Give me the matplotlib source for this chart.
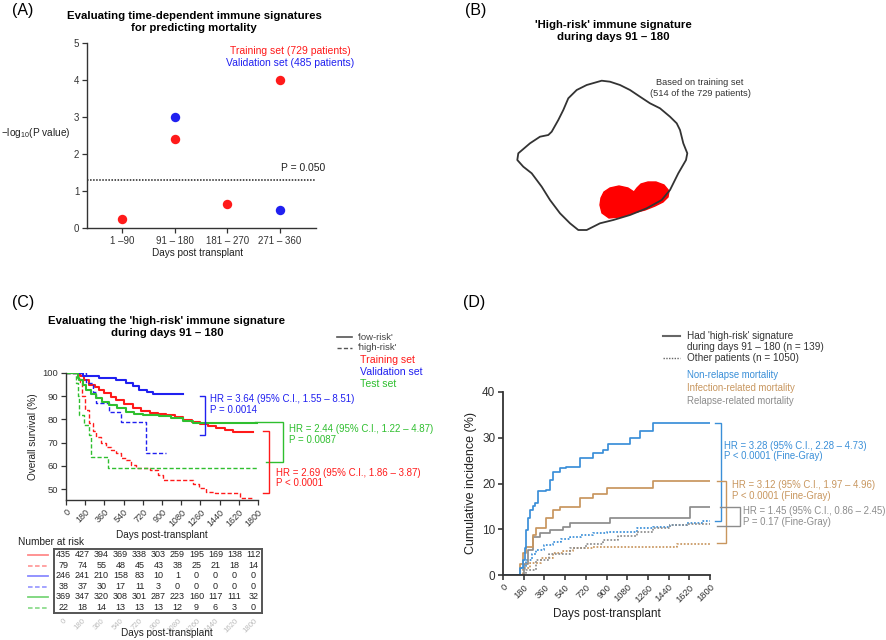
import matplotlib
matplotlib.use('Agg')
import matplotlib.pyplot as plt
import numpy as np
from matplotlib.patches import Polygon
from matplotlib.lines import Line2D

plt.rcParams['font.family'] = ['Liberation Sans', 'DejaVu Sans']
plt.rcParams['mathtext.default'] = 'regular'

# ---------------- data ----------------
# Panel A
a_categories = ['1 –90', '91 – 180', '181 – 270', '271 – 360']
a_training = [0.25, 2.4, 0.65, 4.0]
a_validation_idx = [1, 3]
a_validation = [3.0, 0.48]
a_threshold = -np.log10(0.05)

# Panel B (schematic outline and high-risk region, in panel units)
b_outline_x = [601.7, 586.7, 576.7, 568.3, 563.3, 558.3, 551.7, 548.3, 540, 530, 518.3, 517.3, 523.3,
               531.7, 541.7, 550, 560, 570, 578.3, 586.7, 600, 613.3, 630, 646.7, 661.7, 670, 678.3,
               686, 687.3, 683.3, 680, 676.7, 670, 660, 650, 640, 630, 620, 610]
b_outline_y = [80.7, 85, 90, 98.3, 110, 120, 131.7, 135, 136.7, 143.3, 153.3, 160, 166.7,
               173.3, 186.7, 200, 213.3, 223.3, 230, 230, 223.3, 220, 215, 208.3, 200, 190, 173.3,
               160, 153.3, 143.3, 130, 123.3, 116.7, 108.3, 103.3, 96.7, 90, 85, 81.7]
b_region_x = [600, 601, 604, 610, 619, 628, 634, 637, 641, 648, 656, 664, 669, 668, 663, 655, 645,
              633, 620, 609, 602]
b_region_y = [205, 198, 192, 188, 186, 188, 192, 188, 184, 182, 182, 185, 191, 197, 202, 206, 210,
              213, 217, 218, 213]

# Panel C: Kaplan-Meier curves (days, survival %)
c_train_low_t = [0, 95, 130, 172, 220, 270, 313, 360, 420, 470, 540, 626, 700, 783, 860, 939, 1020,
                 1096, 1180, 1252, 1330, 1409, 1490, 1565, 1630, 1690, 1750]
c_train_low_s = [100, 100, 98.5, 97, 95, 93.8, 92.8, 91.2, 89.8, 88.5, 86.8, 84.9, 83.8, 82.7, 82.2,
                 82, 81, 79.8, 78.8, 78.1, 77.2, 76.2, 75.4, 74.8, 74.5, 74.4, 74.4]
c_train_high_t = [0, 95, 130, 150, 180, 219, 250, 282, 330, 376, 420, 470, 520, 563, 610, 657, 783,
                  860, 908, 1000, 1096, 1190, 1250, 1315, 1400, 1565, 1628, 1750]
c_train_high_s = [100, 100, 96, 90, 84, 78.4, 75, 72.6, 70, 68.3, 67, 65.4, 63.5, 62.5, 60.5, 59,
                  58.2, 56, 53.9, 53.9, 53.9, 52.4, 50.5, 48.8, 48.4, 48.4, 46, 46]
c_val_low_t = [0, 100, 156, 313, 470, 563, 626, 689, 760, 814, 1096]
c_val_low_s = [100, 100, 98.6, 97.8, 97.1, 95.7, 94.5, 92.8, 91.8, 91.0, 90.9]
c_val_high_t = [0, 110, 188, 250, 282, 407, 516, 751, 939]
c_val_high_s = [100, 100, 95.7, 92, 87, 83.4, 78.7, 65.4, 65.4]
c_test_low_t = [0, 80, 110, 125, 160, 188, 230, 282, 340, 407, 480, 563, 640, 720, 800, 876, 980,
                1096, 1190, 1800]
c_test_low_s = [100, 100, 98, 97, 95, 92.8, 91, 89.2, 87.5, 86.3, 84.8, 83.4, 82.5, 82, 81.7, 81.3,
                80.5, 79.5, 78.6, 78.6]
c_test_high_t = [0, 78, 90, 110, 125, 172, 219, 235, 391, 1800]
c_test_high_s = [100, 100, 95.7, 90, 82, 77.4, 73.3, 64, 59, 59]

c_ticks = [0, 180, 360, 540, 720, 900, 1080, 1260, 1440, 1620, 1800]
risk_rows = [
    [435, 427, 394, 369, 338, 303, 259, 195, 169, 138, 112],
    [79, 74, 55, 48, 45, 43, 38, 25, 21, 18, 14],
    [246, 241, 210, 158, 83, 10, 1, 0, 0, 0, 0],
    [38, 37, 30, 17, 11, 3, 0, 0, 0, 0, 0],
    [369, 347, 320, 308, 301, 287, 223, 160, 117, 111, 32],
    [22, 18, 14, 13, 13, 13, 12, 9, 6, 3, 0],
]

# Panel D: cumulative incidence (days, %)
d_nrm_high_t = [0, 116, 150, 174, 190, 203, 218, 232, 260, 276, 305, 377, 406, 435, 493, 551, 668,
                784, 871, 914, 1103, 1190, 1306, 1800]
d_nrm_high_s = [0, 0, 1.5, 3.3, 6, 9.9, 12.5, 14.2, 15, 15.7, 18.3, 18.6, 20.8, 22.6, 23.4, 23.7,
                25.5, 26.6, 27.4, 28.7, 29.9, 31.4, 33.2, 33.2]
d_inf_high_t = [0, 116, 150, 174, 203, 261, 290, 377, 435, 493, 668, 784, 900, 1306, 1800]
d_inf_high_s = [0, 0, 2.5, 4.7, 6.2, 8.8, 10.2, 12.4, 14.2, 14.8, 16.8, 17.7, 19.0, 20.6, 20.6]
d_rel_high_t = [0, 130, 180, 218, 261, 319, 406, 523, 580, 929, 1626, 1800]
d_rel_high_s = [0, 0, 2.5, 5.5, 8.4, 9.1, 9.9, 10.6, 11.3, 12.4, 14.8, 14.8]
d_nrm_oth_t = [0, 116, 150, 203, 250, 290, 360, 435, 500, 580, 680, 784, 900, 1016, 1161, 1300,
               1452, 1600, 1742, 1800]
d_nrm_oth_s = [0, 0, 1.5, 3.3, 4.5, 5.5, 6.5, 7.3, 7.9, 8.4, 8.8, 9.1, 9.3, 9.5, 10.2, 10.5, 11.0,
               11.3, 11.7, 11.7]
d_inf_oth_t = [0, 116, 170, 232, 330, 435, 520, 610, 784, 1306, 1510, 1800]
d_inf_oth_s = [0, 0, 1.5, 2.6, 3.8, 4.7, 5.3, 5.8, 6.2, 6.2, 6.8, 6.8]
d_rel_oth_t = [0, 145, 200, 290, 400, 580, 720, 871, 1000, 1161, 1300, 1452, 1600, 1800]
d_rel_oth_s = [0, 0, 1.2, 3.3, 4.6, 5.8, 6.8, 7.7, 8.6, 9.5, 10.2, 11.0, 11.2, 11.3]

# ---------------- styles ----------------
RED = '#ff1a1a'
BLUE = '#2020f0'
GREEN = '#2fbf2f'
D_BLUE = '#3a8fd8'
D_TAN = '#c8965e'
D_GRAY = '#8c8c8c'
AXC = '#333333'
DASH = (0, (3, 1.6))
DOT = (0, (1, 1))

W, H = 886, 640
fig = plt.figure(figsize=(W / 100, H / 100), dpi=100)


def ax_px(x0, y0, x1, y1):
    return fig.add_axes([x0 / W, 1 - y1 / H, (x1 - x0) / W, (y1 - y0) / H])


def T(x, y, s, **kw):
    kw.setdefault('fontsize', 7)
    kw.setdefault('va', 'center')
    return fig.text(x / W, 1 - y / H, s, **kw)


def style_axes(ax, lw=1.0, labelsize=7):
    for side in ['top', 'right']:
        ax.spines[side].set_visible(False)
    for side in ['left', 'bottom']:
        ax.spines[side].set_color(AXC)
        ax.spines[side].set_linewidth(lw)
    ax.tick_params(colors=AXC, length=3.5, width=lw * 0.9, labelsize=labelsize, pad=2)


# ---------------- Panel A ----------------
T(12, 11, '(A)', fontsize=11.5)
T(194, 22, 'Evaluating time-dependent immune signatures\nfor predicting mortality',
  fontsize=8.2, fontweight='bold', ha='center', linespacing=1.15)
axA = ax_px(87, 43, 316, 228)
style_axes(axA)
xpos = np.arange(len(a_categories))
axA.scatter(xpos, a_training, s=46, color=RED, zorder=3, linewidths=0)
axA.scatter(a_validation_idx, a_validation, s=46, color=BLUE, zorder=3, linewidths=0)
axA.axhline(a_threshold, color='#222222', lw=1.1, ls=DOT)
axA.set_xlim(-0.66, 3.68)
axA.set_ylim(0, 5)
axA.set_xticks(xpos)
axA.set_xticklabels(a_categories, fontsize=7)
axA.set_yticks(range(6))
T(303, 168, 'P = 0.050', fontsize=7.4, ha='center', color='#222222')
T(290, 51, 'Training set (729 patients)', fontsize=7.5, ha='center', color=RED)
T(290, 63, 'Validation set (485 patients)', fontsize=7.5, ha='center', color=BLUE)
T(1, 133, '−log$_{10}$(P value)', fontsize=7.3, ha='left', color='#222222')
T(198, 253, 'Days post transplant', fontsize=7.2, ha='center', color='#222222')

# ---------------- Panel B ----------------
T(465, 11, '(B)', fontsize=11.5)
T(613, 31, "'High-risk' immune signature\nduring days 91 – 180",
  fontsize=8.2, fontweight='bold', ha='center', linespacing=1.15)
axB = ax_px(500, 60, 760, 245)
axB.set_xlim(500, 760)
axB.set_ylim(245, 60)
axB.axis('off')
axB.add_patch(Polygon(np.column_stack([b_region_x, b_region_y]), closed=True,
                      facecolor='#ff0000', edgecolor='#ff0000', lw=1.0))
axB.add_patch(Polygon(np.column_stack([b_outline_x, b_outline_y]), closed=True,
                      facecolor='none', edgecolor='#333333', lw=1.3, joinstyle='round'))
T(700, 88, 'Based on training set\n(514 of the 729 patients)', fontsize=6.7, ha='center',
  color='#333333', linespacing=1.25)

# ---------------- Panel C ----------------
T(12, 302, '(C)', fontsize=11.5)
T(167, 327, "Evaluating the 'high-risk' immune signature\nduring days 91 – 180",
  fontsize=8.2, fontweight='bold', ha='center', linespacing=1.15)
axC = ax_px(66, 373, 258, 500)
style_axes(axC)
curvesC = [
    (c_train_low_t, c_train_low_s, RED, '-'),
    (c_train_high_t, c_train_high_s, RED, DASH),
    (c_val_low_t, c_val_low_s, BLUE, '-'),
    (c_val_high_t, c_val_high_s, BLUE, DASH),
    (c_test_low_t, c_test_low_s, GREEN, '-'),
    (c_test_high_t, c_test_high_s, GREEN, DASH),
]
for t, s, c, ls in curvesC:
    lw = 1.5 if ls == '-' else 1.0
    axC.step(t, s, where='post', color=c, ls=ls, lw=lw)
axC.set_xlim(0, 1800)
axC.set_ylim(45.3, 100)
axC.set_yticks([50, 60, 70, 80, 90, 100])
axC.set_xticks(c_ticks)
axC.set_xticklabels([str(v) for v in c_ticks], rotation=45, ha='right',
                    rotation_mode='anchor', fontsize=6.5)
axC.tick_params(axis='y', labelsize=6.8)
axC.set_ylabel('Overall survival (%)', fontsize=7.2, color='#222222', labelpad=3)
axC.set_xlabel('Days post-transplant', fontsize=7.2, color='#222222', labelpad=1)


def bracket(ax, x_top0, x_bot0, x_v, y_top, y_bot, color, lw=1.0):
    ax.plot([x_top0, x_v, x_v, x_bot0], [y_top, y_top, y_bot, y_bot], color=color, lw=lw,
            clip_on=False, solid_joinstyle='miter')


bracket(axC, 1252, 1252, 1299, 90.2, 73.3, BLUE)
bracket(axC, 1768, 1878, 2034, 78.7, 61.8, GREEN)
bracket(axC, 1847, 1847, 1903, 75.2, 48.1, RED)
axC.text(1346, 86.3, 'HR = 3.64 (95% C.I., 1.55 – 8.51)\nP = 0.0014', color=BLUE,
         fontsize=7, va='center', ha='left', clip_on=False, linespacing=1.1)
axC.text(2091, 73.5, 'HR = 2.44 (95% C.I., 1.22 – 4.87)\nP = 0.0087', color=GREEN,
         fontsize=7, va='center', ha='left', clip_on=False, linespacing=1.1)
axC.text(1972, 54.8, 'HR = 2.69 (95% C.I., 1.86 – 3.87)\nP < 0.0001', color=RED,
         fontsize=7, va='center', ha='left', clip_on=False, linespacing=1.1)

# legend C
fig.add_artist(Line2D([337 / W, 352 / W], [1 - 337 / H, 1 - 337 / H], color='#555555', lw=1.2))
fig.add_artist(Line2D([337 / W, 352 / W], [1 - 348 / H, 1 - 348 / H], color='#555555', lw=1.0,
                      ls=DASH))
T(357, 337, "'low-risk'", fontsize=6.8, color='#444444')
T(357, 348, "'high-risk'", fontsize=6.8, color='#444444')
T(360, 360, 'Training set', fontsize=7.6, color=RED)
T(360, 372, 'Validation set', fontsize=7.6, color=BLUE)
T(360, 384, 'Test set', fontsize=7.6, color=GREEN)

# Number at risk table
T(18, 542, 'Number at risk', fontsize=7.3, color='#222222')
axT = ax_px(54, 549, 262, 613)
axT.set_xlim(-90, 1880)
axT.set_ylim(5.55, -0.55)
for side in axT.spines.values():
    side.set_color('#555555')
    side.set_linewidth(1.4)
axT.set_yticks([])
axT.set_xticks(c_ticks)
axT.set_xticklabels([str(v) for v in c_ticks], rotation=45, ha='right', rotation_mode='anchor',
                    fontsize=5.6, color='#bbbbbb')
axT.tick_params(axis='x', length=0, pad=3)
for r, row in enumerate(risk_rows):
    for tval, n in zip(c_ticks, row):
        axT.text(tval, r, str(n), ha='center', va='center', fontsize=6.5, color='#222222')
sample_cols = ['#ff8a8a', '#ff8a8a', '#8a8aff', '#8a8aff', '#7ad67a', '#7ad67a']
row_px = [555, 565.5, 576, 586.5, 597, 607.5]
for i, (c, yp) in enumerate(zip(sample_cols, row_px)):
    fig.add_artist(Line2D([28 / W, 48 / W], [1 - yp / H, 1 - yp / H], color=c,
                          lw=1.3 if i % 2 == 0 else 1.1, ls='-' if i % 2 == 0 else DASH))
T(167, 633, 'Days post-transplant', fontsize=7.2, ha='center', color='#222222')

# ---------------- Panel D ----------------
T(463, 302, '(D)', fontsize=11.5)
axD = ax_px(503, 392, 710, 575)
style_axes(axD, lw=1.3, labelsize=8.5)
curvesD = [
    (d_nrm_oth_t, d_nrm_oth_s, D_BLUE, DOT),
    (d_inf_oth_t, d_inf_oth_s, D_TAN, DOT),
    (d_rel_oth_t, d_rel_oth_s, D_GRAY, DOT),
    (d_rel_high_t, d_rel_high_s, D_GRAY, '-'),
    (d_inf_high_t, d_inf_high_s, D_TAN, '-'),
    (d_nrm_high_t, d_nrm_high_s, D_BLUE, '-'),
]
for t, s, c, ls in curvesD:
    axD.step(t, s, where='post', color=c, ls=ls, lw=1.25)
axD.set_xlim(0, 1800)
axD.set_ylim(0, 40)
axD.set_yticks([0, 10, 20, 30, 40])
axD.set_xticks(c_ticks)
axD.set_xticklabels([str(v) for v in c_ticks], rotation=45, ha='right',
                    rotation_mode='anchor', fontsize=6.8)
axD.set_ylabel('Cumulative incidence (%)', fontsize=9, color='#222222', labelpad=4)
axD.set_xlabel('Days post-transplant', fontsize=8.5, color='#222222', labelpad=3)
bracket(axD, 1843, 1843, 1893, 33.2, 11.7, D_BLUE)
bracket(axD, 1858, 1858, 1939, 20.6, 7.1, D_TAN)
bracket(axD, 1887, 1858, 2061, 14.8, 10.8, D_GRAY)
axD.text(1922, 27.1, 'HR = 3.28 (95% C.I., 2.28 – 4.73)\nP < 0.0001 (Fine-Gray)', color=D_BLUE,
         fontsize=6.9, va='center', ha='left', clip_on=False, linespacing=1.1)
axD.text(1989, 18.4, 'HR = 3.12 (95% C.I., 1.97 – 4.96)\nP < 0.0001 (Fine-Gray)', color=D_TAN,
         fontsize=6.9, va='center', ha='left', clip_on=False, linespacing=1.1)
axD.text(2090, 12.8, 'HR = 1.45 (95% C.I., 0.86 – 2.45)\nP = 0.17 (Fine-Gray)', color=D_GRAY,
         fontsize=6.9, va='center', ha='left', clip_on=False, linespacing=1.1)

# legend D
fig.add_artist(Line2D([663 / W, 680 / W], [1 - 336 / H, 1 - 336 / H], color='#666666', lw=1.5))
fig.add_artist(Line2D([663 / W, 680 / W], [1 - 358 / H, 1 - 358 / H], color='#666666', lw=1.0,
                      ls=DOT))
T(687, 341.5, "Had 'high-risk' signature\nduring days 91 – 180 (n = 139)", fontsize=7.2,
  color='#333333', linespacing=1.05)
T(687, 358, 'Other patients (n = 1050)', fontsize=7.2, color='#333333')
T(687, 375, 'Non-relapse mortality', fontsize=6.9, color=D_BLUE)
T(687, 388, 'Infection-related mortality', fontsize=6.9, color=D_TAN)
T(687, 401, 'Relapse-related mortality', fontsize=6.9, color=D_GRAY)

fig.savefig('out.png', dpi=100, facecolor='white')
